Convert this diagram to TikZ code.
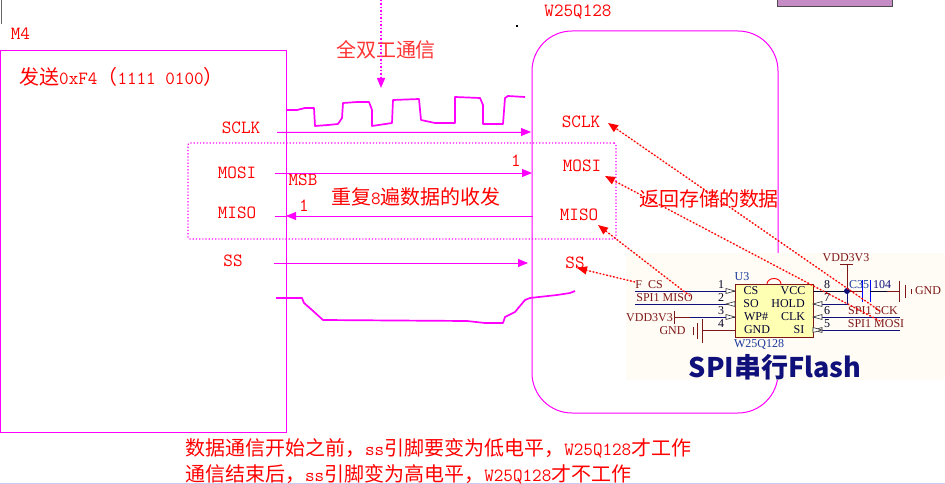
\documentclass[tikz,border=0pt]{standalone}
\usepackage{fontspec}
\newfontfamily\cjk[Scale=1.075]{Noto Sans CJK SC}
\newfontfamily\schfont{Liberation Serif}
\newfontfamily\flashfont{Noto Sans CJK SC}
\usepackage{xcolor}
\usepackage{tikz}
\usetikzlibrary{arrows.meta, positioning}
\definecolor{pinkline}{HTML}{FF00FF}
\definecolor{schred}{HTML}{7E1818}
\definecolor{schblue}{HTML}{1A3A9A}
\definecolor{schnavy}{HTML}{10107A}
\definecolor{schbg}{HTML}{FFFCF5}
\definecolor{chipfill}{HTML}{FFFFB4}

\begin{document}
\begin{tikzpicture}[x=1pt, y=-1pt,
				>={Triangle[length=10pt,width=8pt]},
				lbl/.style={text=red, inner sep=0pt, font=\ttfamily\fontsize{18.6}{20}\selectfont},
				sch/.style={inner sep=0pt, font=\schfont\fontsize{12}{13}\selectfont},
				netlbl/.style={sch, text=schred},
				pinlbl/.style={sch, text=black!80!blue},
				pinnum/.style={sch, text=black!70!schnavy},
				sig/.style={draw=pinkline, line width=0.9pt},
				trace/.style={draw=pinkline, line width=1.7pt, line join=round},
				ret/.style={->, draw=red, fill=red, line width=1.4pt, dash pattern=on 1.5pt off 2pt},
				wire/.style={draw=schnavy, line width=1pt},
				redwire/.style={draw=schred, line width=1pt},
				tick/.style={draw=black!80, fill=white, line width=0.6pt}]
				\useasboundingbox (0,0) rectangle (945,484);
				% stray bits of the screenshot
				\draw[black!60, line width=0.8pt] (1,0) -- (1,24);
				\draw[black!70, fill=violet!45!white, line width=0.8pt] (777,-2) rectangle (892,6);
				\fill[black] (516,25.5) rectangle (518,27.5);
				\draw[black!25!blue!20!white, line width=1.2pt] (0,483.4) -- (945,483.4);

				% the two devices
				\node at (143.5,241.5) (mfour) [draw=pinkline, line width=1pt, minimum width=286pt, minimum height=381pt, inner sep=0pt] {};
				\node at (655,222) (flash) [draw=pinkline, line width=1pt, rounded corners=40pt, minimum width=246pt, minimum height=382pt, inner sep=0pt] {};
				\node at (402,191) (databox) [draw=pinkline, line width=1.2pt, dash pattern=on 1.2pt off 2pt, rounded corners=2pt, minimum width=428pt, minimum height=96pt, inner sep=0pt] {};
				\fill[schbg] (626,253) rectangle (945,380);

				\node at (20.5,34) (mfourname) [lbl] {M4};
				\node at (578,12) (flashname) [lbl] {W25Q128};
				\node at (19,77) (sendtxt) [lbl, anchor=west] {{\cjk 发送}0xF4{\cjk （}1111 0100{\cjk ）}};
				\node at (386,50) (duplex) [lbl, text=red!80!white] {\cjk 全双工通信};
				\node at (416,196.5) (repeat) [lbl] {{\cjk 重复}8{\cjk 遍数据的收发}};
				\node at (709,199) (backtxt) [lbl] {\cjk 返回存储的数据};
				\node at (185,448) (noteone) [lbl, anchor=west] {{\cjk 数据通信开始之前，}ss{\cjk 引脚要变为低电平，}W25Q128{\cjk 才工作}};
				\node at (185,474) (notetwo) [lbl, anchor=west] {{\cjk 通信结束后，}ss{\cjk 引脚变为高电平，}W25Q128{\cjk 才不工作}};

				\node at (241,128) (msclk) [lbl] {SCLK};
				\node at (237,173) (mmosi) [lbl] {MOSI};
				\node at (237,213) (mmiso) [lbl] {MISO};
				\node at (233,261) (mss) [lbl] {SS};
				\node at (581,122) (fsclk) [lbl] {SCLK};
				\node at (582,166) (fmosi) [lbl] {MOSI};
				\node at (579,215) (fmiso) [lbl] {MISO};
				\node at (575,263) (fss) [lbl] {SS};
				\node at (303,180) (msb) [lbl] {MSB};
				\node at (516,161) (oneout) [lbl] {1};
				\node at (304,206) (onein) [lbl] {1};

				\coordinate (sclka) at (277,132);
				\coordinate (sclkb) at (531,132);
				\coordinate (mosia) at (275,173);
				\coordinate (mosib) at (532,173);
				\coordinate (misoa) at (533,216);
				\coordinate (misob) at (286,216);
				\coordinate (misoc) at (275,216);
				\coordinate (ssa) at (274,263);
				\coordinate (ssb) at (528,263);
				\coordinate (toptail) at (381,0);
				\coordinate (tophead) at (381,88);
				\draw[sig, ->, fill=pinkline] (sclka) -- (sclkb);
				\draw[sig, ->, fill=pinkline] (mosia) -- (mosib);
				\draw[sig, ->, fill=pinkline] (misoa) -- (misob);
				\draw[sig] (misob) -- (misoc);
				\draw[sig, ->, fill=pinkline] (ssa) -- (ssb);
				\draw[->, draw=pinkline, fill=pinkline, line width=1.4pt, dash pattern=on 1.5pt off 2pt] (toptail) -- (tophead);

				% clock and select waveforms
				\draw[trace] (286,110) -- (297,110) -- (305,108) -- (314,108) -- (315,126) -- (328,125) -- (338,124) -- (342,118) -- (343,103) -- (357,102) -- (369,102) -- (372,110) -- (372,126) -- (392,123) -- (393,100) -- (419,99) -- (421,120) -- (435,123) -- (455,123) -- (455,97) -- (480,98) -- (483,105) -- (483,124) -- (503,124) -- (505,98) -- (508,96) -- (525,97);
				\draw[trace] (276,298) -- (302,298) -- (304,303) -- (312,310) -- (323,320) -- (467,321) -- (485,323) -- (503,323) -- (505,317) -- (515,312) -- (525,300) -- (530,298) -- (557,295) -- (570,293) -- (575,291);

				% schematic
				\node at (774,310.5) (chip) [draw=schred, fill=chipfill, line width=1pt, minimum width=78pt, minimum height=53pt, inner sep=0pt] {};
				\draw[red, line width=0.9pt] (767,284) arc[start angle=180, end angle=0, x radius=7, y radius=-5.5];
				\coordinate (pa) at (735,291);
				\coordinate (pb) at (735,304);
				\coordinate (pc) at (735,317);
				\coordinate (pd) at (735,330);
				\coordinate (pe) at (813,291);
				\coordinate (pf) at (813,304);
				\coordinate (pg) at (813,317);
				\coordinate (ph) at (813,330);
				\coordinate (junc) at (847,291);
				\coordinate (vtop) at (847,264);
				\coordinate (capl) at (862,291);
				\coordinate (capr) at (870,291);
				\coordinate (gndbar) at (899,291);
				\draw[wire] (635,291) -- (pa);
				\draw[wire] (635,304) -- (pb);
				\draw[wire] (pc) -- (690,317);
				\draw[redwire] (690,317) -- (674,317);
				\draw[redwire] (674,311) -- (674,324);
				\draw[redwire] (pd) -- (702,330);
				\draw[redwire] (702,319) -- (702,343);
				\draw[redwire] (697,323) -- (697,339);
				\draw[redwire] (693,327) -- (693,335);
				\draw[wire, draw=black!70!schnavy] (pe) -- (junc);
				\draw[wire] (pf) -- (847,304) -- (junc);
				\draw[redwire] (junc) -- (vtop);
				\draw[redwire] (840,264) -- (853,264);
				\draw[redwire] (junc) -- (capl);
				\draw[draw=blue, line width=1pt] (862,280) -- (862,302);
				\draw[draw=blue, line width=1pt] (870,280) -- (870,302);
				\draw[wire, draw=black!70!schnavy] (capr) -- (887,291);
				\draw[redwire] (887,291) -- (gndbar);
				\draw[redwire] (899,281) -- (899,302);
				\draw[redwire] (905,285) -- (905,298);
				\draw[redwire] (911,289) -- (911,294);
				\draw[wire] (pg) -- (900,317);
				\draw[wire] (ph) -- (900,330);
				\fill[schnavy] (junc) circle (3pt);
				\draw[tick] (726,288.5) -- (735,291) -- (726,293.5) -- cycle;
				\draw[tick] (735,301.5) -- (726,304) -- (735,306.5) -- cycle;
				\draw[tick] (726,314.5) -- (735,317) -- (726,319.5) -- cycle;
				\draw[tick] (822,301.5) -- (813,304) -- (822,306.5) -- cycle;
				\draw[tick] (822,314.5) -- (813,317) -- (822,319.5) -- cycle;
				\draw[tick] (822,327.5) -- (813,330) -- (822,332.5) -- cycle;
				\draw[tick] (813,327.5) -- (822,330) -- (813,332.5) -- cycle;
				\node at (751,291) (pincs) [pinlbl] {CS};
				\node at (751,304) (pinso) [pinlbl] {SO};
				\node at (756,317) (pinwp) [pinlbl] {WP\#};
				\node at (757,330) (pingnd) [pinlbl] {GND};
				\node at (793,291) (pinvcc) [pinlbl] {VCC};
				\node at (788,304) (pinhold) [pinlbl] {HOLD};
				\node at (793,317) (pinclk) [pinlbl] {CLK};
				\node at (799,330) (pinsi) [pinlbl] {SI};
				\node at (721,285) (numa) [pinnum] {1};
				\node at (721,298) (numb) [pinnum] {2};
				\node at (721,311) (numc) [pinnum] {3};
				\node at (721,324) (numd) [pinnum] {4};
				\node at (827,285) (nume) [pinnum] {8};
				\node at (827,298) (numf) [pinnum] {7};
				\node at (827,311) (numg) [pinnum] {6};
				\node at (827,324) (numh) [pinnum] {5};
				\node at (742,277) (uthree) [sch, text=schblue] {U3};
				\node at (759,344) (partno) [sch, text=schblue] {W25Q128};
				\node at (649,285) (fcs) [netlbl] {F\ \ CS};
				\node at (664.5,298) (misonet) [netlbl] {SPI1 MISO};
				\node at (649.5,318) (vddl) [netlbl] {VDD3V3};
				\node at (672.5,331) (gndl) [netlbl] {GND};
				\node at (846,258) (vddr) [netlbl] {VDD3V3};
				\node at (928,291) (gndr) [netlbl] {GND};
				\node at (873,311) (scknet) [netlbl] {SPI1 SCK};
				\node at (876,324) (mosinet) [netlbl] {SPI1 MOSI};
				\node at (859,285) (cap) [sch, text=schblue] {C35};
				\node at (882,285) (capval) [sch, text=schnavy] {104};
				\node at (775,367) (flashtitle) [inner sep=0pt, text=schnavy, font=\flashfont\bfseries\fontsize{27}{30}\selectfont] {SPI串行Flash};

				% dotted arrows back to the pin names
				\coordinate (retsclk) at (880,311);
				\coordinate (retmosi) at (880,321);
				\coordinate (retmiso) at (690,296);
				\coordinate (retss) at (635,282);
				\coordinate (tipsclk) at (608,123);
				\coordinate (tipmosi) at (605,176);
				\coordinate (tipmiso) at (598,225);
				\coordinate (tipss) at (577,268);
				\draw[ret] (retsclk) -- (tipsclk);
				\draw[ret] (retmosi) -- (tipmosi);
				\draw[ret] (retmiso) -- (tipmiso);
				\draw[ret] (retss) -- (tipss);
			\end{tikzpicture}
\end{document}
